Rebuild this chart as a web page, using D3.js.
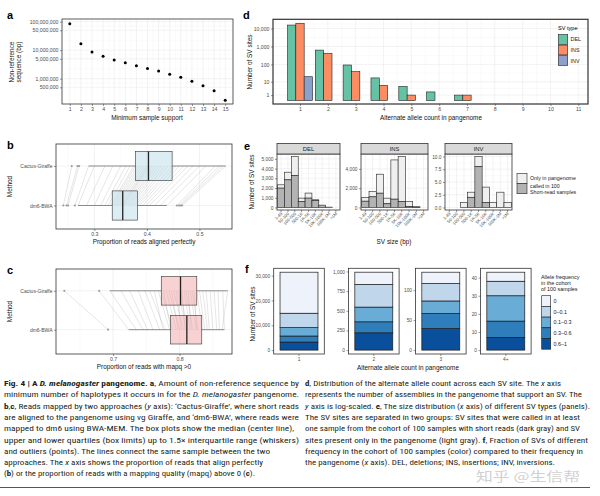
<!DOCTYPE html>
<html>
<head>
<meta charset="utf-8">
<script src="https://cdn.jsdelivr.net/npm/d3@7"></script>
<style>
  body { margin: 0; background: #fff; }
  svg text { font-family: "Liberation Sans", Arial, sans-serif; }
</style>
</head>
<body>
<div id="figure"></div>
<script>
// ---------- data ----------
// a: non-reference sequence by minimum sample support
var sampleSupport = [1,2,3,4,5,6,7,8,9,10,11,12,13,14,15];
var nonRefSeq = [85000000,16900000,8600000,6100000,4500000,3600000,2860000,2300000,1860000,1430000,1120000,810000,570000,380000,175000];
var seqTicks = [500000,1000000,5000000,10000000,50000000,100000000];

// d: SV sites by alternate allele count (null = no bar)
var alleleCount = [1,2,3,4,5,6,7,8,9,10,11];
var svTypes = ["DEL","INS","INV"];
var delSites = [15500,630,93,17,5,2,1,null,null,null,0];
var insSites = [19500,420,39,6,1,0,1,null,null,null,null];
var invSites = [20,0,null,null,null,null,null,null,null,null,null];
var siteTicks = [1,10,100,1000,10000];

// b: proportion of reads aligned perfectly
var methods = ["Cactus-Giraffe","dm6-BWA"];
var perfectQ1 = [0.378, 0.334];
var perfectMedian = [0.403, 0.354];
var perfectQ3 = [0.448, 0.382];
var perfectWhiskLo = [0.289, 0.269];
var perfectWhiskHi = [0.550, 0.438];
var perfectOutGiraffe = [0.257, 0.268, 0.271];
var perfectOutBwa = [0.241, 0.247, 0.250, 0.263, 0.457, 0.461, 0.464, 0.467];
var perfectGiraffe = [0.257,0.268,0.271,0.289,0.300,0.320,0.335,0.350,0.360,0.368,0.375,0.378,0.382,0.386,0.390,0.394,0.398,0.401,0.403,0.406,0.410,0.414,0.418,0.423,0.428,0.434,0.440,0.448,0.455,0.462,0.470,0.478,0.488,0.500,0.512,0.530,0.538,0.544,0.550];
var perfectBwa = [0.241,0.247,0.250,0.263,0.269,0.285,0.300,0.312,0.320,0.326,0.331,0.334,0.337,0.340,0.343,0.346,0.349,0.352,0.354,0.356,0.359,0.362,0.365,0.368,0.371,0.375,0.378,0.382,0.386,0.392,0.398,0.405,0.415,0.425,0.438,0.457,0.461,0.464,0.467];
var perfectTicks = [0.3, 0.4, 0.5];

// c: proportion of reads with mapq > 0
var mapqQ1 = [0.7725, 0.7865];
var mapqMedian = [0.8015, 0.811];
var mapqQ3 = [0.826, 0.8335];
var mapqWhiskLo = [0.695, 0.7235];
var mapqWhiskHi = [0.8725, 0.8675];
var mapqOutGiraffe = [0.6265, 0.679];
var mapqOutBwa = [0.6925];
var mapqGiraffe = [0.6265,0.679,0.695,0.712,0.725,0.738,0.748,0.755,0.762,0.768,0.772,0.776,0.780,0.784,0.788,0.791,0.795,0.798,0.801,0.804,0.807,0.810,0.813,0.816,0.819,0.822,0.826,0.830,0.835,0.840,0.846,0.852,0.858,0.865,0.8725];
var mapqBwa = [0.6925,0.7235,0.735,0.745,0.752,0.760,0.770,0.778,0.775,0.785,0.790,0.787,0.795,0.800,0.798,0.806,0.803,0.810,0.812,0.808,0.816,0.820,0.818,0.825,0.828,0.826,0.834,0.838,0.842,0.845,0.850,0.856,0.860,0.8675,0.864];
var mapqTicks = [0.7, 0.8];

// e: SV size distribution, short-read called (dark) + only in pangenome (light)
var sizeBins = ["1-49","50-100","100-500","500-1K","1K-5K","5K-10K","10K-100K","100K-1M",">1M"];
var delShort = [1990,2840,3290,620,960,720,240,35,0];
var delOnly  = [340,790,1950,340,520,70,0,0,0];
var insShort = [650,1100,1480,380,860,620,100,35,0];
var insOnly  = [400,555,1970,585,4070,4660,520,35,0];
var invShort = [0,0,0,2,8,1,0,0,0];
var invOnly  = [0,0,1,1,2,3,1,3,1];
var delTicks = [0,1000,2000,3000,4000,5000];
var insTicks = [0,2000,4000];
var invTicks = [0,2.5,5,7.5,10];

// f: allele frequency in the cohort by allele count in pangenome
var countGroups = ["1","2","3","4+"];
var freqClasses = ["0","0\u20130.1","0.1\u20130.3","0.3\u20130.6","0.6\u20131"];
var freq0     = [16540,156,19,5];
var freq0to01 = [5810,288,29,8];
var freq01to03 = [3370,187,21,14];
var freq03to06 = [2440,140,25,9];
var freq06to1 = [3240,220,36,7];
var fTicks = [[0,10000,20000,30000],[0,250,500,750,1000],[0,50,100],[0,10,20,30,40]];

// ---------- setup ----------
var F = "'Liberation Sans', Arial, sans-serif";
var tickCol = "#4d4d4d", frameCol = "#333", gridMaj = "#e6e6e6", gridMin = "#f3f3f3";
var tickFs = 5.2, titleFs = 6.4;

var svg = d3.select("#figure").append("svg")
    .attr("width", 600).attr("height", 496)
    .style("background", "#fff");

function styleAxis(g, fs) {
    g.attr("font-family", F).attr("font-size", fs || tickFs);
    g.select(".domain").remove();
    g.selectAll(".tick line").attr("stroke", frameCol).attr("stroke-width", 0.5);
    g.selectAll(".tick text").attr("fill", tickCol);
}
function frame(g, x0, y0, x1, y1, w) {
    g.append("rect").attr("x", x0).attr("y", y0).attr("width", x1 - x0).attr("height", y1 - y0)
        .attr("fill", "none").attr("stroke", frameCol).attr("stroke-width", w || 0.8);
}
function vlines(g, xs, y0, y1, col, w) {
    g.selectAll(null).data(xs).enter().append("line")
        .attr("x1", d => d).attr("x2", d => d).attr("y1", y0).attr("y2", y1)
        .attr("stroke", col).attr("stroke-width", w);
}
function hlines(g, ys, x0, x1, col, w) {
    g.selectAll(null).data(ys).enter().append("line")
        .attr("y1", d => d).attr("y2", d => d).attr("x1", x0).attr("x2", x1)
        .attr("stroke", col).attr("stroke-width", w);
}
function title(x, y, txt, rot, fs) {
    var t = svg.append("text").attr("text-anchor", "middle").attr("font-size", fs || titleFs)
        .attr("fill", "#111").text(txt);
    if (rot) t.attr("transform", `translate(${x},${y}) rotate(-90)`);
    else t.attr("x", x).attr("y", y);
    return t;
}

// panel letters
[["a",7,19],["d",243,19],["b",7,149],["e",244,150],["c",7,274],["f",245,273]].forEach(function(p){
    svg.append("text").attr("x", p[1]).attr("y", p[2]).attr("font-size", 11)
        .attr("font-weight", 900).text(p[0]);
});

// ---------- panel a ----------
var ga = svg.append("g");
var xA = d3.scaleLinear().domain([0.3, 15.7]).range([62, 233]);
var yA = d3.scaleLog().domain([130000, 124000000]).range([104, 19]);
ga.append("rect").attr("x", 62).attr("y", 19).attr("width", 171).attr("height", 85).attr("fill", "#fff");
var aMinorY = [];
for (var i = 0; i < seqTicks.length - 1; i++) aMinorY.push(Math.sqrt(seqTicks[i] * seqTicks[i + 1]));
vlines(ga, sampleSupport.slice(0, -1).map(d => xA(d + 0.5)), 19, 104, gridMin, 0.4);
hlines(ga, aMinorY.map(yA), 62, 233, gridMin, 0.4);
vlines(ga, sampleSupport.map(xA), 19, 104, gridMaj, 0.5);
hlines(ga, seqTicks.map(yA), 62, 233, gridMaj, 0.5);
ga.selectAll("circle").data(nonRefSeq).enter().append("circle")
    .attr("cx", (d, i) => xA(sampleSupport[i])).attr("cy", d => yA(d))
    .attr("r", 1.5).attr("fill", "#000");
frame(ga, 62, 19, 233, 104);
styleAxis(ga.append("g").attr("transform", "translate(62,0)")
    .call(d3.axisLeft(yA).tickValues(seqTicks).tickFormat(d3.format(",")).tickSize(2).tickPadding(1.5)));
styleAxis(ga.append("g").attr("transform", "translate(0,104)")
    .call(d3.axisBottom(xA).tickValues(sampleSupport).tickFormat(d3.format("d")).tickSize(2).tickPadding(1.5)));
var ya = title(0, 0, "", true);
ya.attr("transform", "translate(15,62) rotate(-90)");
ya.append("tspan").attr("x", 0).attr("dy", -1.5).text("Non-reference");
ya.append("tspan").attr("x", 0).attr("dy", 7).text("sequence (bp)");
title(147, 120, "Minimum sample support");

// ---------- panel d ----------
var gd = svg.append("g");
var xD = d3.scaleLinear().domain([1, 11]).range([300, 578.3]);
var yD = d3.scaleSymlog().constant(1).domain([-0.56, 32400]).range([104, 19.3]);
var stepD = xD(2) - xD(1);
gd.append("rect").attr("x", 273).attr("y", 19.3).attr("width", 315).attr("height", 84.7).attr("fill", "#fff");
vlines(gd, alleleCount.slice(0, -1).map(d => xD(d + 0.5)), 19.3, 104, gridMin, 0.4);
var dMinor = [];
for (var j = 0; j < siteTicks.length - 1; j++) dMinor.push((yD(siteTicks[j]) + yD(siteTicks[j + 1])) / 2);
dMinor.push((yD(10000) + 19.3) / 2);
hlines(gd, dMinor, 273, 588, gridMin, 0.4);
vlines(gd, alleleCount.map(xD), 19.3, 104, gridMaj, 0.5);
hlines(gd, siteTicks.map(yD), 273, 588, gridMaj, 0.5);
var svColors = { DEL: "#66c2a5", INS: "#fc8d62", INV: "#8da0cb" };
var svSeries = [delSites, insSites, invSites];
var dBars = [];
svSeries.forEach(function(s, k) {
    s.forEach(function(v, i) { if (v !== null) dBars.push({ k: k, x: alleleCount[i], v: v }); });
});
gd.selectAll("rect.bar").data(dBars).enter().append("rect").attr("class", "bar")
    .attr("x", d => xD(d.x) + (d.k - 1.5) * 0.3 * stepD)
    .attr("width", 0.3 * stepD)
    .attr("y", d => yD(d.v)).attr("height", d => yD(0) - yD(d.v))
    .attr("fill", d => svColors[svTypes[d.k]]).attr("stroke", "#222").attr("stroke-width", 0.6);
frame(gd, 273, 19.3, 588, 104, 1.2);
styleAxis(gd.append("g").attr("transform", "translate(273,0)")
    .call(d3.axisLeft(yD).tickValues(siteTicks).tickFormat(d3.format(",")).tickSize(2).tickPadding(1.5)));
styleAxis(gd.append("g").attr("transform", "translate(0,104)")
    .call(d3.axisBottom(xD).tickValues(alleleCount).tickFormat(d3.format("d")).tickSize(2).tickPadding(1.5)));
title(252, 62, "Number of SV sites", true);
title(431, 120, "Alternate allele count in pangenome");
// legend d
svg.append("text").attr("x", 558).attr("y", 30).attr("font-size", 5.6).text("SV type");
svTypes.forEach(function(t, i) {
    svg.append("rect").attr("x", 558.3).attr("y", 34.5 + i * 10.6).attr("width", 9.4).attr("height", 9.8)
        .attr("fill", svColors[t]).attr("stroke", "#222").attr("stroke-width", 0.6);
    svg.append("text").attr("x", 570.5).attr("y", 41.4 + i * 10.6).attr("font-size", 5.4).attr("fill", "#222").text(t);
});

// ---------- panels b & c ----------
function pairedPanel(cfg) {
    var g = svg.append("g");
    var x = d3.scaleLinear().domain(cfg.domain).range([56, 232]);
    var y0 = cfg.top, y1 = cfg.bottom;
    g.append("rect").attr("x", 56).attr("y", y0).attr("width", 176).attr("height", y1 - y0).attr("fill", "#fff");
    var st = cfg.ticks[1] - cfg.ticks[0];
    var minor = [];
    for (var v = cfg.ticks[0] - st / 2; v < cfg.domain[1]; v += st) if (v > cfg.domain[0]) minor.push(v);
    vlines(g, minor.map(x), y0, y1, gridMin, 0.45);
    vlines(g, cfg.ticks.map(x), y0, y1, gridMaj, 0.55);
    hlines(g, cfg.ys, 56, 232, gridMaj, 0.5);
    // sample lines
    g.selectAll("line.pair").data(cfg.giraffe).enter().append("line").attr("class", "pair")
        .attr("x1", d => x(d)).attr("y1", cfg.ys[0])
        .attr("x2", (d, i) => x(cfg.bwa[i])).attr("y2", cfg.ys[1])
        .attr("stroke", "#9a9a9a").attr("stroke-opacity", 0.55).attr("stroke-width", 0.45);
    [0, 1].forEach(function(m) {
        var yc = cfg.ys[m];
        g.append("line").attr("x1", x(cfg.lo[m])).attr("x2", x(cfg.q1[m])).attr("y1", yc).attr("y2", yc)
            .attr("stroke", "#444").attr("stroke-width", 0.6);
        g.append("line").attr("x1", x(cfg.q3[m])).attr("x2", x(cfg.hi[m])).attr("y1", yc).attr("y2", yc)
            .attr("stroke", "#444").attr("stroke-width", 0.6);
        g.append("rect").attr("x", x(cfg.q1[m])).attr("width", x(cfg.q3[m]) - x(cfg.q1[m]))
            .attr("y", yc - cfg.half).attr("height", 2 * cfg.half)
            .attr("fill", cfg.fill).attr("fill-opacity", 0.5).attr("stroke", "#333").attr("stroke-width", 0.6);
        g.append("line").attr("x1", x(cfg.med[m])).attr("x2", x(cfg.med[m]))
            .attr("y1", yc - cfg.half).attr("y2", yc + cfg.half)
            .attr("stroke", "#222").attr("stroke-width", 1.3);
        g.selectAll(null).data(cfg.out[m]).enter().append("circle")
            .attr("cx", d => x(d)).attr("cy", yc).attr("r", 1.1)
            .attr("fill", "#888").attr("fill-opacity", 0.8);
    });
    frame(g, 56, y0, 232, y1);
    styleAxis(g.append("g").attr("transform", `translate(0,${y1})`)
        .call(d3.axisBottom(x).tickValues(cfg.ticks).tickFormat(d3.format(".1f")).tickSize(2).tickPadding(1.5)));
    var yb = d3.scalePoint().domain(methods).range(cfg.ys);
    styleAxis(g.append("g").attr("transform", "translate(56,0)")
        .call(d3.axisLeft(yb).tickSize(2).tickPadding(1.5)), 5);
    title(12, (y0 + y1) / 2, "Method", true);
    title(144, y1 + 15, cfg.label);
}
pairedPanel({
    domain: [0.227, 0.562], top: 144, bottom: 229, ys: [166, 205.5], half: 14.6,
    ticks: perfectTicks, giraffe: perfectGiraffe, bwa: perfectBwa,
    q1: perfectQ1, med: perfectMedian, q3: perfectQ3, lo: perfectWhiskLo, hi: perfectWhiskHi,
    out: [perfectOutGiraffe, perfectOutBwa], fill: "#b9dcea",
    label: "Proportion of reads aligned perfectly"
});
pairedPanel({
    domain: [0.614, 0.879], top: 269, bottom: 354, ys: [290.8, 329.7], half: 14.3,
    ticks: mapqTicks, giraffe: mapqGiraffe, bwa: mapqBwa,
    q1: mapqQ1, med: mapqMedian, q3: mapqQ3, lo: mapqWhiskLo, hi: mapqWhiskHi,
    out: [mapqOutGiraffe, mapqOutBwa], fill: "#f2a5a5",
    label: "Proportion of reads with mapq >0"
});

// ---------- panel e ----------
var lightGray = "#efefef", darkGray = "#b3b3b3";
function sizeFacet(x0, x1, name, shortV, onlyV, ticks, fmt) {
    var g = svg.append("g");
    var top = 154, bot = 210;
    var totals = shortV.map((d, i) => d + onlyV[i]);
    var M = d3.max(totals);
    var x = d3.scaleBand().domain(sizeBins).range([x0, x1]).paddingInner(0).paddingOuter(0.1);
    var y = d3.scaleLinear().domain([-0.05 * M, 1.05 * M]).range([bot, top]);
    g.append("rect").attr("x", x0).attr("y", top).attr("width", x1 - x0).attr("height", bot - top).attr("fill", "#fff");
    var minor = [];
    for (var i = 0; i < ticks.length; i++) {
        var m = ticks[i] + (ticks[1] - ticks[0]) / 2;
        if (y(m) > top) minor.push(y(m));
    }
    hlines(g, minor, x0, x1, gridMin, 0.4);
    hlines(g, ticks.map(y), x0, x1, gridMaj, 0.5);
    vlines(g, sizeBins.map(d => x(d) + x.bandwidth() / 2), top, bot, gridMaj, 0.5);
    var bars = sizeBins.map((d, i) => ({ bin: d, s: shortV[i], o: onlyV[i] })).filter(d => d.s + d.o > 0);
    g.selectAll("rect.only").data(bars).enter().append("rect")
        .attr("x", d => x(d.bin)).attr("width", x.bandwidth())
        .attr("y", d => y(d.s + d.o)).attr("height", d => y(d.s) - y(d.s + d.o))
        .attr("fill", lightGray).attr("stroke", "#222").attr("stroke-width", 0.6);
    g.selectAll("rect.short").data(bars.filter(d => d.s > 0)).enter().append("rect")
        .attr("x", d => x(d.bin)).attr("width", x.bandwidth())
        .attr("y", d => y(d.s)).attr("height", d => y(0) - y(d.s))
        .attr("fill", darkGray).attr("stroke", "#222").attr("stroke-width", 0.6);
    frame(g, x0, top, x1, bot, 0.8);
    // strip
    g.append("rect").attr("x", x0).attr("y", 143.5).attr("width", x1 - x0).attr("height", 10.5)
        .attr("fill", "#d9d9d9").attr("stroke", frameCol).attr("stroke-width", 0.8);
    g.append("text").attr("x", (x0 + x1) / 2).attr("y", 151).attr("text-anchor", "middle")
        .attr("font-size", 5.8).attr("fill", "#1a1a1a").text(name);
    styleAxis(g.append("g").attr("transform", `translate(${x0},0)`)
        .call(d3.axisLeft(y).tickValues(ticks).tickFormat(fmt).tickSize(2).tickPadding(1.5)), 4.8);
    var ax = g.append("g").attr("transform", `translate(0,${bot})`)
        .call(d3.axisBottom(x).tickSize(2).tickPadding(1));
    styleAxis(ax, 4.3);
    ax.selectAll(".tick text").attr("text-anchor", "end").attr("dy", "0.3em")
        .attr("transform", "translate(-1.5,1) rotate(-45)");
}
sizeFacet(277, 340, "DEL", delShort, delOnly, delTicks, d3.format(","));
sizeFacet(361, 428, "INS", insShort, insOnly, insTicks, d3.format(","));
sizeFacet(445, 512, "INV", invShort, invOnly, invTicks, d3.format(".1f"));
title(254, 182, "Number of SV sites", true);
title(394, 244, "SV size (bp)");
// legend e
svg.append("rect").attr("x", 517).attr("y", 173.3).attr("width", 10).attr("height", 10.2)
    .attr("fill", lightGray).attr("stroke", "#222").attr("stroke-width", 0.6);
svg.append("rect").attr("x", 517).attr("y", 183.5).attr("width", 10).attr("height", 10.2)
    .attr("fill", darkGray).attr("stroke", "#222").attr("stroke-width", 0.6);
[["Only in pangenome", 179.8], ["called in 100", 187.6], ["Short-read samples", 194.2]].forEach(function(l) {
    svg.append("text").attr("x", 530).attr("y", l[1]).attr("font-size", 5.3).attr("fill", "#222").text(l[0]);
});

// ---------- panel f ----------
var blues = ["#eef2fb", "#c0d7eb", "#69acd5", "#2f7ebc", "#0a4f9b"];
var freqSeries = [freq0, freq0to01, freq01to03, freq03to06, freq06to1];
var fCenters = [299, 373.8, 440.8, 505.8];
countGroups.forEach(function(grp, gi) {
    var g = svg.append("g");
    var x0 = fCenters[gi] - 25.3, x1 = fCenters[gi] + 25.3, top = 268.3, bot = 354;
    var vals = freqSeries.map(s => s[gi]);
    var M = d3.sum(vals);
    var x = d3.scaleBand().domain([grp]).range([x0, x1]).paddingInner(0).paddingOuter(0.1667);
    var y = d3.scaleLinear().domain([-0.05 * M, 1.05 * M]).range([bot, top]);
    g.append("rect").attr("x", x0).attr("y", top).attr("width", x1 - x0).attr("height", bot - top).attr("fill", "#fff");
    hlines(g, fTicks[gi].map(y), x0, x1, gridMin, 0.5);
    // stack from 0.6-1 (bottom) up to 0 (top)
    var stackOrder = [4, 3, 2, 1, 0];
    var cum = 0, segs = [];
    stackOrder.forEach(function(k) { segs.push({ k: k, y0: cum, y1: cum + vals[k] }); cum += vals[k]; });
    var bw = 0.9 / 1.2 * (x1 - x0), bx = fCenters[gi] - bw / 2;
    g.selectAll("rect.seg").data(segs).enter().append("rect")
        .attr("x", bx).attr("width", bw)
        .attr("y", d => y(d.y1)).attr("height", d => y(d.y0) - y(d.y1))
        .attr("fill", d => blues[d.k]).attr("stroke", "#1a1a1a").attr("stroke-width", 0.7);
    frame(g, x0, top, x1, bot, 0.8);
    styleAxis(g.append("g").attr("transform", `translate(${x0},0)`)
        .call(d3.axisLeft(y).tickValues(fTicks[gi]).tickFormat(d3.format(",")).tickSize(2).tickPadding(1.5)), 4.8);
    styleAxis(g.append("g").attr("transform", `translate(0,${bot})`)
        .call(d3.axisBottom(x).tickSize(2).tickPadding(1.5)), 4.8);
});
title(255, 314, "Number of SV sites", true);
title(408, 370, "Alternate allele count in pangenome");
// legend f
["Allele frequency", "in the cohort", "of 100 samples"].forEach(function(t, i) {
    svg.append("text").attr("x", 541).attr("y", 279 + i * 6).attr("font-size", 5.4).attr("fill", "#222").text(t);
});
freqClasses.forEach(function(c, i) {
    svg.append("rect").attr("x", 541.7).attr("y", 295.7 + i * 10.7).attr("width", 9).attr("height", 10.7)
        .attr("fill", blues[i]).attr("stroke", "#1a1a1a").attr("stroke-width", 0.6);
    svg.append("text").attr("x", 553.5).attr("y", 302.9 + i * 10.7).attr("font-size", 5.4).attr("fill", "#222").text(c);
});

// ---------- caption ----------
var capFont = "'Liberation Sans Narrow', 'Roboto Condensed', 'Liberation Sans', Arial, sans-serif";
var leftLines = [
    [["Fig. 4 | A ", "b"], ["D. melanogaster", "bi"], [" pangenome. ", "b"], ["a", "b"], [", Amount of non-reference sequence by", ""]],
    [["minimum number of haplotypes it occurs in for the ", ""], ["D. melanogaster", "i"], [" pangenome.", ""]],
    [["b", "b"], [",", ""], ["c", "b"], [", Reads mapped by two approaches (", ""], ["y", "i"], [" axis): \u2018Cactus-Giraffe\u2019, where short reads", ""]],
    [["are aligned to the pangenome using vg Giraffe, and \u2018dm6-BWA\u2019, where reads were", ""]],
    [["mapped to dm6 using BWA-MEM. The box plots show the median (center line),", ""]],
    [["upper and lower quartiles (box limits) up to 1.5\u00d7 interquartile range (whiskers)", ""]],
    [["and outliers (points). The lines connect the same sample between the two", ""]],
    [["approaches. The ", ""], ["x", "i"], [" axis shows the proportion of reads that align perfectly", ""]],
    [["(", ""], ["b", "b"], [") or the proportion of reads with a mapping quality (mapq) above 0 (", ""], ["c", "b"], [").", ""]]
];
var leftEnds = [299, 299, 299, 299, 294, 299, 270, 263, 255];
var rightLines = [
    [["d", "b"], [", Distribution of the alternate allele count across each SV site. The ", ""], ["x", "i"], [" axis", ""]],
    [["represents the number of assemblies in the pangenome that support an SV. The", ""]],
    [["y", "i"], [" axis is log-scaled. ", ""], ["e", "b"], [", The size distribution (", ""], ["x", "i"], [" axis) of different SV types (panels).", ""]],
    [["The SV sites are separated in two groups: SV sites that were called in at least", ""]],
    [["one sample from the cohort of 100 samples with short reads (dark gray) and SV", ""]],
    [["sites present only in the pangenome (light gray). ", ""], ["f", "b"], [", Fraction of SVs of different", ""]],
    [["frequency in the cohort of 100 samples (color) compared to their frequency in", ""]],
    [["the pangenome (", ""], ["x", "i"], [" axis). DEL, deletions; INS, insertions; INV, inversions.", ""]]
];
var rightEnds = [561, 582, 590, 580, 580, 588, 583, 555];
function captionLine(x, y, end, segs) {
    var t = svg.append("text").attr("x", x).attr("y", y)
        .attr("textLength", end - x).attr("lengthAdjust", "spacingAndGlyphs")
        .style("font-family", capFont).attr("font-size", 7.7).attr("fill", "#231f20");
    segs.forEach(function(s) {
        var sp = t.append("tspan").text(s[0]);
        if (s[1].indexOf("b") >= 0) sp.attr("font-weight", "bold");
        if (s[1].indexOf("i") >= 0) sp.attr("font-style", "italic");
    });
}
leftLines.forEach((l, i) => captionLine(4, 386 + i * 11.3, leftEnds[i], l));
rightLines.forEach((l, i) => captionLine(305, 386 + i * 11.3, rightEnds[i], l));

// watermark
svg.append("text").attr("x", 476).attr("y", 481).attr("font-size", 13)
    .attr("textLength", 104).attr("lengthAdjust", "spacingAndGlyphs")
    .style("font-family", "'Noto Sans CJK SC', sans-serif").attr("fill", "#c8c8c8").attr("fill-opacity", 0.85)
    .text("知乎 @生信帮");
svg.append("line").attr("x1", 0).attr("x2", 590).attr("y1", 487.5).attr("y2", 487.5)
    .attr("stroke", "#555").attr("stroke-width", 1);
</script>
</body>
</html>
